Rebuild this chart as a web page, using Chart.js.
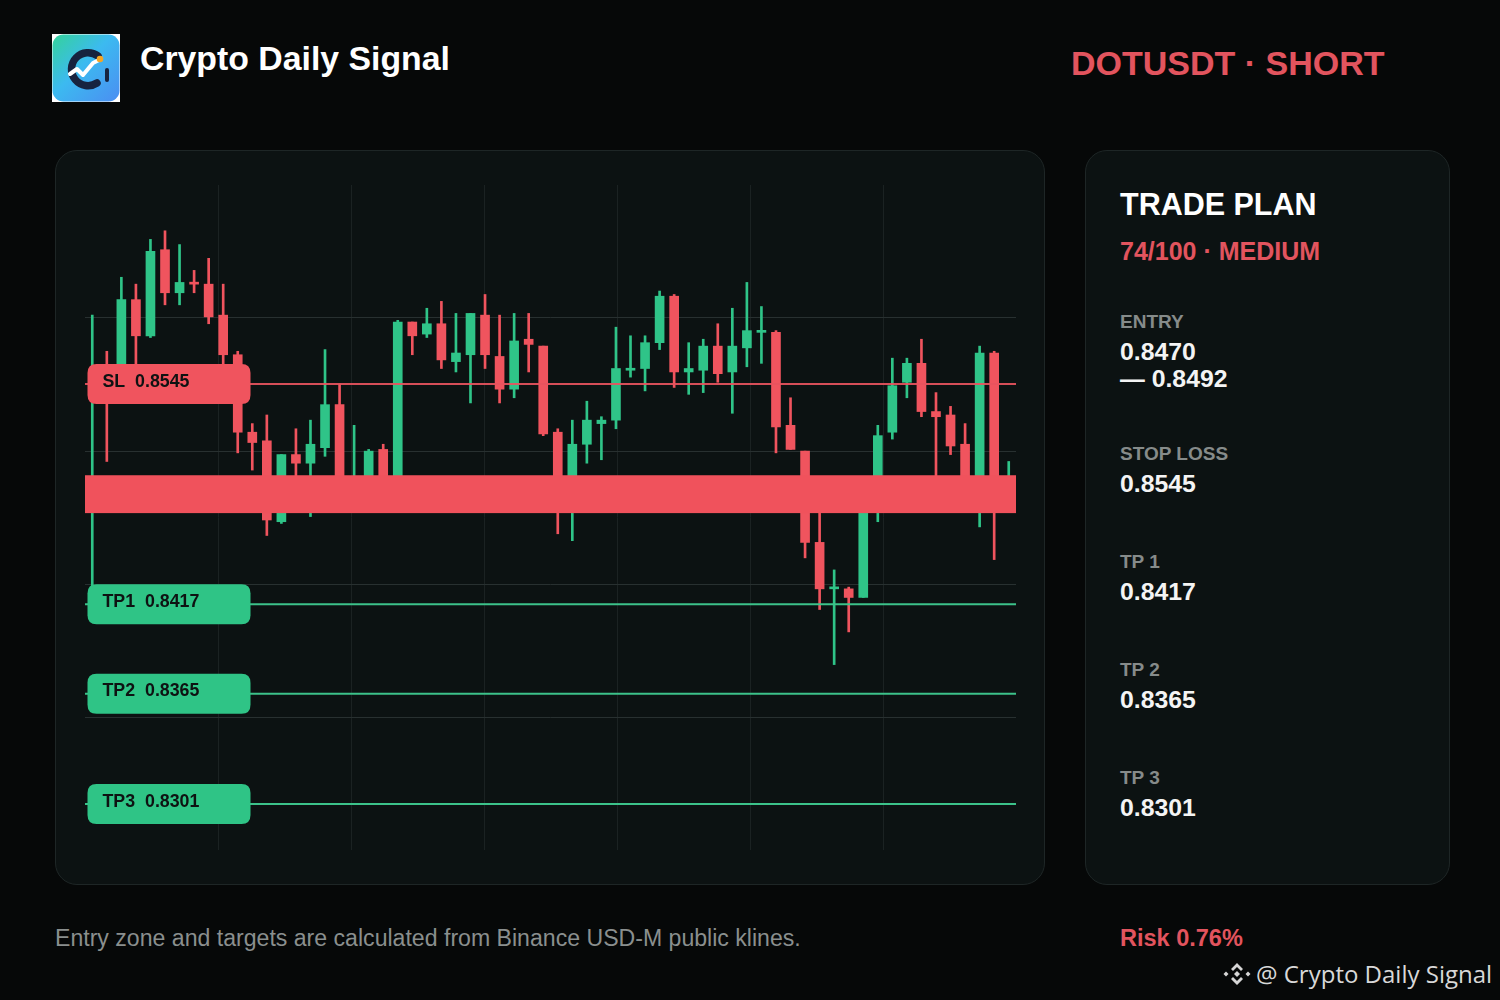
<!DOCTYPE html>
<html><head><meta charset="utf-8">
<script src="https://cdn.jsdelivr.net/npm/chart.js@4.4.1/dist/chart.umd.min.js"></script>
<style>
html,body{margin:0;padding:0;background:#060808;width:1500px;height:1000px;overflow:hidden;font-family:"Liberation Sans",Arial,sans-serif;}
.abs{position:absolute;line-height:1;white-space:nowrap;}
.panel{position:absolute;background:#0c1212;border:1px solid #1e2626;border-radius:22px;box-sizing:border-box;}
.lbl{color:#868b8a;font-size:19px;font-weight:bold;left:1120px;}
.val{color:#f4f4f4;font-size:24.8px;font-weight:bold;left:1120px;}
#chartBox{position:absolute;left:85px;top:185px;width:931px;height:665px;}
</style></head><body>

<svg class="abs" style="left:52px;top:34px" width="68" height="68" viewBox="0 0 68 68">
  <defs><linearGradient id="lg" x1="0" y1="0" x2="1" y2="1">
    <stop offset="0" stop-color="#34d39a"/><stop offset="0.45" stop-color="#3cbaf0"/><stop offset="1" stop-color="#4b8ef2"/></linearGradient></defs>
  <rect width="68" height="68" fill="#ffffff"/>
  <rect x="0.5" y="0.5" width="67" height="67" rx="11" fill="url(#lg)"/>
  <path d="M 46 22 A 16.5 16.5 0 1 0 45 49" fill="none" stroke="#17233f" stroke-width="7.5" stroke-linecap="round"/>
  <rect x="53" y="34" width="4" height="14" rx="2" fill="#17233f"/>
  <polyline points="18,40 25,35 31,41 41,29 47,26" fill="none" stroke="#ffffff" stroke-width="4" stroke-linecap="round" stroke-linejoin="round"/>
  <circle cx="48" cy="25" r="3.3" fill="#f5a524"/>
</svg>
<div class="abs" style="left:140px;top:42px;font-size:33.8px;font-weight:bold;color:#ffffff;">Crypto Daily Signal</div>
<div class="abs" style="left:1071px;top:46px;font-size:34px;font-weight:bold;color:#e2545e;">DOTUSDT · SHORT</div>

<div class="panel" style="left:55px;top:150px;width:990px;height:735px;"></div>
<div class="panel" style="left:1085px;top:150px;width:365px;height:735px;"></div>

<div id="chartBox"><canvas id="c"></canvas></div>

<div class="abs" style="left:1120px;top:189px;font-size:30.5px;font-weight:bold;color:#ffffff;">TRADE PLAN</div>
<div class="abs" style="left:1120px;top:239px;font-size:25px;font-weight:bold;color:#e2545e;">74/100 · MEDIUM</div>
<div class="abs lbl" style="top:311.5px;">ENTRY</div>
<div class="abs val" style="top:338px;line-height:27px;">0.8470<br>— 0.8492</div>
<div class="abs lbl" style="top:443.5px;">STOP LOSS</div>
<div class="abs val" style="top:472px;">0.8545</div>
<div class="abs lbl" style="top:551.5px;">TP 1</div>
<div class="abs val" style="top:580px;">0.8417</div>
<div class="abs lbl" style="top:659.5px;">TP 2</div>
<div class="abs val" style="top:688px;">0.8365</div>
<div class="abs lbl" style="top:767.5px;">TP 3</div>
<div class="abs val" style="top:796px;">0.8301</div>

<div class="abs" style="left:55px;top:927px;font-size:23.1px;color:#8a8f8e;">Entry zone and targets are calculated from Binance USD-M public klines.</div>
<div class="abs" style="left:1120px;top:927px;font-size:23.5px;font-weight:bold;color:#e2545e;">Risk 0.76%</div>
<svg class="abs" style="left:1222px;top:962px" width="30" height="24" viewBox="0 0 30 24">
  <g fill="#d6d6d6">
    <path d="M15 1 L21 7 L19 9 L15 5 L11 9 L9 7 Z"/>
    <path d="M15 23 L21 17 L19 15 L15 19 L11 15 L9 17 Z"/>
    <path d="M15 9 L18 12 L15 15 L12 12 Z"/>
    <path d="M4 9.5 L6.5 12 L4 14.5 L1.5 12 Z"/>
    <path d="M26 9.5 L28.5 12 L26 14.5 L23.5 12 Z"/>
  </g>
</svg>
<div class="abs" style="left:1256px;top:962px;font-size:24px;color:#d8d8d8;font-family:'Open Sans','Noto Sans',sans-serif;">@ Crypto Daily Signal</div>

<script>
// ---- data ----
const categories = ["1","2","3","4","5","6","7","8","9","10","11","12","13","14","15","16","17","18","19","20","21","22","23","24","25","26","27","28","29","30","31","32","33","34","35","36","37","38","39","40","41","42","43","44","45","46","47","48","49","50","51","52","53","54","55","56","57","58","59","60","61","62","63","64"];
const opens  = [0.8478,0.8554,0.8539,0.8594,0.8573,0.8623,0.8598,0.8604,0.8603,0.8585,0.8562,0.8517,0.8512,0.8465,0.8504,0.8499,0.8508,0.8533,0.8481,0.8484,0.8507,0.8486,0.8581,0.8574,0.8580,0.8558,0.8562,0.8585,0.8561,0.8542,0.8571,0.8567,0.8517,0.8481,0.8510,0.8522,0.8524,0.8553,0.8554,0.8569,0.8596,0.8552,0.8553,0.8567,0.8552,0.8566,0.8575,0.8575,0.8521,0.8506,0.8453,0.8426,0.8426,0.8421,0.8484,0.8517,0.8546,0.8557,0.8529,0.8527,0.8510,0.8478,0.8563,0.8482];
const highs  = [0.8585,0.8564,0.8607,0.8603,0.8629,0.8634,0.8626,0.8611,0.8618,0.8603,0.8564,0.8522,0.8527,0.8504,0.8519,0.8524,0.8565,0.8545,0.8521,0.8507,0.8510,0.8582,0.8581,0.8589,0.8593,0.8586,0.8586,0.8597,0.8585,0.8586,0.8586,0.8567,0.8519,0.8524,0.8535,0.8526,0.8578,0.8573,0.8573,0.8599,0.8597,0.8569,0.8571,0.8580,0.8589,0.8604,0.8590,0.8576,0.8537,0.8506,0.8474,0.8437,0.8427,0.8489,0.8521,0.8560,0.8560,0.8571,0.8540,0.8532,0.8522,0.8567,0.8564,0.8500];
const lows   = [0.8423,0.8500,0.8536,0.8548,0.8572,0.8591,0.8591,0.8598,0.8580,0.8553,0.8505,0.8495,0.8457,0.8464,0.8488,0.8468,0.8503,0.8478,0.8476,0.8480,0.8482,0.8480,0.8562,0.8572,0.8554,0.8552,0.8534,0.8554,0.8534,0.8537,0.8552,0.8515,0.8458,0.8454,0.8499,0.8501,0.8519,0.8549,0.8541,0.8565,0.8543,0.8539,0.8540,0.8546,0.8528,0.8555,0.8557,0.8505,0.8507,0.8444,0.8414,0.8382,0.8401,0.8421,0.8465,0.8513,0.8537,0.8526,0.8488,0.8504,0.8480,0.8462,0.8443,0.8478];
const closes = [0.8488,0.8537,0.8594,0.8573,0.8622,0.8598,0.8604,0.8603,0.8584,0.8562,0.8517,0.8511,0.8466,0.8504,0.8499,0.8510,0.8533,0.8484,0.8488,0.8506,0.8487,0.8581,0.8573,0.8580,0.8559,0.8563,0.8586,0.8562,0.8542,0.8570,0.8568,0.8516,0.8478,0.8510,0.8524,0.8524,0.8554,0.8554,0.8569,0.8596,0.8552,0.8554,0.8567,0.8551,0.8567,0.8576,0.8576,0.8520,0.8507,0.8453,0.8426,0.8427,0.8421,0.8486,0.8515,0.8544,0.8557,0.8529,0.8526,0.8509,0.8484,0.8563,0.8476,0.8490];
const entryZone = [0.8470, 0.8492];
const stopLoss = 0.8545;
const targets = [["TP1", 0.8417], ["TP2", 0.8365], ["TP3", 0.8301]];
const yRange = [0.82743, 0.86606];

const UP = '#2fc488', DOWN = '#f0545e';
const colors = opens.map((o, i) => closes[i] >= o ? UP : DOWN);

function rr(ctx, x, y, w, h, r) {
  ctx.beginPath();
  ctx.moveTo(x + r, y); ctx.lineTo(x + w - r, y); ctx.quadraticCurveTo(x + w, y, x + w, y + r);
  ctx.lineTo(x + w, y + h - r); ctx.quadraticCurveTo(x + w, y + h, x + w - r, y + h);
  ctx.lineTo(x + r, y + h); ctx.quadraticCurveTo(x, y + h, x, y + h - r);
  ctx.lineTo(x, y + r); ctx.quadraticCurveTo(x, y, x + r, y); ctx.closePath();
}

const levelsPlugin = {
  id: 'levels',
  afterDatasetsDraw(chart) {
    const ctx = chart.ctx, ys = chart.scales.y, a = chart.chartArea;
    ctx.save();
    const drawLine = (v, col) => {
      const y = ys.getPixelForValue(v);
      ctx.strokeStyle = col; ctx.lineWidth = 2;
      ctx.beginPath(); ctx.moveTo(a.left, y); ctx.lineTo(a.right, y); ctx.stroke();
    };
    drawLine(stopLoss, 'rgba(232,84,94,0.92)');
    targets.forEach(t => drawLine(t[1], '#3cc28a'));
    const y1 = ys.getPixelForValue(entryZone[1]), y2 = ys.getPixelForValue(entryZone[0]);
    ctx.fillStyle = '#f0525c';
    ctx.fillRect(a.left, y1, a.right - a.left, y2 - y1);
    const badge = (txt, v, bg) => {
      const y = ys.getPixelForValue(v);
      ctx.fillStyle = bg;
      rr(ctx, a.left + 2.5, y - 20, 163, 40, 9); ctx.fill();
      ctx.fillStyle = '#0e1212';
      ctx.font = 'bold 17.8px "Liberation Sans", Arial, sans-serif';
      ctx.textBaseline = 'alphabetic';
      ctx.fillText(txt, a.left + 17.5, y + 2.5);
    };
    badge('SL  ' + stopLoss.toFixed(4), stopLoss, '#f0545e');
    targets.forEach(t => badge(t[0] + '  ' + t[1].toFixed(4), t[1], '#2fc486'));
    ctx.restore();
  }
};

const gridCol = (col) => (c) => (c.index === 0 || c.index === c.scale.ticks.length - 1) ? 'rgba(0,0,0,0)' : col;

new Chart(document.getElementById('c'), {
  type: 'bar',
  data: {
    labels: categories,
    datasets: [
      { label: 'wick', data: lows.map((l, i) => [l, highs[i]]), backgroundColor: colors, barThickness: 2, grouped: false, order: 2 },
      { label: 'body', data: opens.map((o, i) => [o, closes[i]]), backgroundColor: colors, barThickness: 9, grouped: false, minBarLength: 2, order: 1 }
    ]
  },
  options: {
    responsive: true, maintainAspectRatio: false, animation: false,
    layout: { padding: 0 },
    plugins: { legend: { display: false }, tooltip: { enabled: false } },
    scales: {
      x: { type: 'category', display: false, offset: true },
      y: { type: 'linear', display: false, min: yRange[0], max: yRange[1] },
      xg: { type: 'linear', position: 'bottom', min: 0, max: 7, offset: false,
            ticks: { display: false, stepSize: 1 },
            grid: { offset: false, drawTicks: false, color: gridCol('#1b2222'), lineWidth: 1 }, border: { display: false } },
      yg: { type: 'linear', position: 'left', min: 0, max: 5, offset: false,
            ticks: { display: false, stepSize: 1 },
            grid: { offset: false, drawTicks: false, color: gridCol('#283030'), lineWidth: 1 }, border: { display: false } }
    }
  },
  plugins: [levelsPlugin]
});
</script>
</body></html>
